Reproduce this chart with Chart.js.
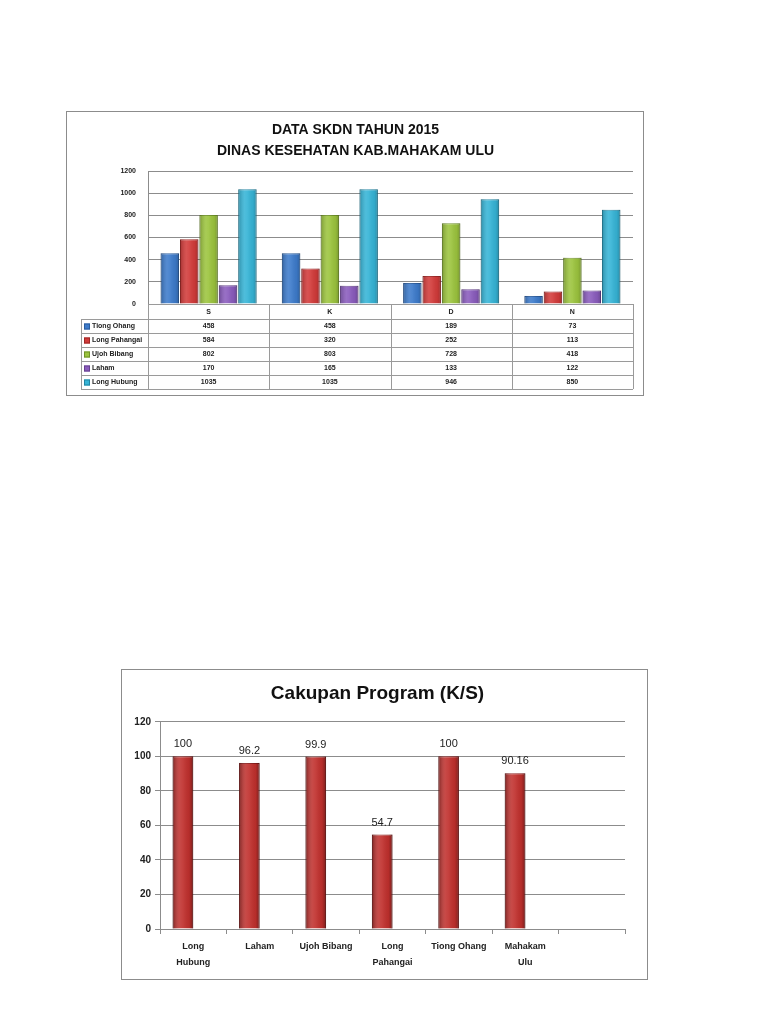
<!DOCTYPE html>
<html>
<head>
<meta charset="utf-8">
<title>SKDN 2015</title>
<script src="https://cdn.jsdelivr.net/npm/chart.js@4.4.0/dist/chart.umd.min.js"></script>
<style>
  body { margin: 0; background: #fff; }
  .frame { position: absolute; border: 1px solid #8c8c8c; background: #fff; box-sizing: border-box; }
  #box1 { left: 66px; top: 111px; width: 578px; height: 285px; }
  #box2 { left: 121px; top: 669px; width: 527px; height: 311px; }
  canvas { display: block; }
</style>
</head>
<body>
<div class="frame" id="box1"><canvas id="skdnChart"></canvas></div>
<div class="frame" id="box2"><canvas id="cakupanChart"></canvas></div>

<script>
// ---- data: SKDN 2015 ----
const skdnCategories = ['S', 'K', 'D', 'N'];
const skdnNames = ['Tiong Ohang', 'Long Pahangai', 'Ujoh Bibang', 'Laham', 'Long Hubung'];
const tiongOhang = [458, 458, 189, 73];
const longPahangai = [584, 320, 252, 113];
const ujohBibang = [802, 803, 728, 418];
const laham = [170, 165, 133, 122];
const longHubung = [1035, 1035, 946, 850];
const skdnTicks = [0, 200, 400, 600, 800, 1000, 1200];

// ---- data: Cakupan Program (K/S) ----
const cakupanLabels = [['Long', 'Hubung'], 'Laham', 'Ujoh Bibang', ['Long', 'Pahangai'], 'Tiong Ohang', ['Mahakam', 'Ulu'], ''];
const cakupanValues = [100, 96.2, 99.9, 54.7, 100, 90.16, null];
const cakupanTicks = [0, 20, 40, 60, 80, 100, 120];

const FONT = '"Liberation Sans", Arial, sans-serif';
const skdnColors = ['#3d7bcb', '#d23b3a', '#9cc43e', '#8a5cbd', '#36b4d6'];
const skdnBorders = ['#2a5c9e', '#9e2725', '#6f9128', '#66408f', '#2185a3'];

// rounded "cylinder" shading over every bar (style only)
const barShade = {
  id: 'barShade',
  afterDatasetsDraw(chart, args, opts) {
    const { ctx } = chart;
    ctx.save();
    chart.data.datasets.forEach((ds, di) => {
      chart.getDatasetMeta(di).data.forEach(bar => {
        if (bar.skip || !bar.width) return;
        const l = bar.x - bar.width / 2, w = bar.width;
        const g = ctx.createLinearGradient(l, 0, l + w, 0);
        g.addColorStop(0, 'rgba(0,0,0,' + opts.dark + ')');
        g.addColorStop(0.35, 'rgba(255,255,255,0.12)');
        g.addColorStop(0.5, 'rgba(255,255,255,0.08)');
        g.addColorStop(0.8, 'rgba(0,0,0,0.05)');
        g.addColorStop(1, 'rgba(0,0,0,' + opts.dark + ')');
        ctx.fillStyle = g;
        ctx.fillRect(l, bar.y, w, bar.base - bar.y);
      });
    });
    ctx.restore();
  }
};

// table under the first chart, aligned with the x scale columns
const skdnTable = {
  id: 'skdnTable',
  afterDraw(chart) {
    const { ctx, chartArea: a } = chart;
    const series = chart.data.datasets;
    const colW = a.width / skdnCategories.length;
    const headH = 15, rowH = 14;
    const top = a.bottom;
    const tableLeft = 14;
    const bottom = top + headH + rowH * series.length;
    ctx.save();
    ctx.strokeStyle = '#9a9a9a';
    ctx.lineWidth = 1;
    ctx.beginPath();
    ctx.moveTo(a.left, top + 0.5);
    ctx.lineTo(a.right, top + 0.5);
    for (let r = 0; r <= series.length; r++) {
      const y = Math.round(top + headH + r * rowH) + 0.5;
      ctx.moveTo(tableLeft, y);
      ctx.lineTo(a.right, y);
    }
    ctx.moveTo(tableLeft + 0.5, top + headH);
    ctx.lineTo(tableLeft + 0.5, bottom);
    for (let c = 0; c <= skdnCategories.length; c++) {
      const x = Math.round(a.left + c * colW) + 0.5;
      ctx.moveTo(x, top);
      ctx.lineTo(x, bottom);
    }
    ctx.stroke();

    ctx.fillStyle = '#222';
    ctx.font = 'bold 7px ' + FONT;
    ctx.textAlign = 'center';
    ctx.textBaseline = 'middle';
    skdnCategories.forEach((c, i) => {
      ctx.fillText(c, a.left + colW * (i + 0.5), top + headH / 2 + 1);
    });
    series.forEach((ds, r) => {
      const yMid = top + headH + rowH * (r + 0.5) + 0.5;
      ctx.fillStyle = ds.backgroundColor;
      ctx.fillRect(tableLeft + 3, yMid - 3, 6, 6);
      ctx.strokeStyle = ds.borderColor;
      ctx.strokeRect(tableLeft + 3.5, yMid - 2.5, 5, 5);
      ctx.fillStyle = '#222';
      ctx.textAlign = 'left';
      ctx.font = 'bold 7px ' + FONT;
      ctx.fillText(ds.label, tableLeft + 11, yMid);
      ctx.textAlign = 'center';
      ds.data.forEach((v, i) => {
        ctx.fillText(String(v), a.left + colW * (i + 0.5), yMid);
      });
    });
    ctx.restore();
  }
};

const skdnData = [tiongOhang, longPahangai, ujohBibang, laham, longHubung];

new Chart(document.getElementById('skdnChart'), {
  type: 'bar',
  data: {
    labels: skdnCategories,
    datasets: skdnNames.map((name, i) => ({
      label: name,
      data: skdnData[i],
      backgroundColor: skdnColors[i],
      borderColor: skdnBorders[i],
      borderWidth: 1,
      barPercentage: 0.95,
      categoryPercentage: 0.8
    }))
  },
  options: {
    responsive: true,
    maintainAspectRatio: false,
    animation: false,
    layout: { padding: { left: 11, right: 10, top: 0, bottom: 91 } },
    plugins: {
      legend: { display: false },
      tooltip: { enabled: false },
      barShade: { dark: 0.22 },
      title: {
        display: true,
        text: ['DATA SKDN TAHUN 2015', 'DINAS KESEHATAN KAB.MAHAKAM ULU'],
        color: '#111',
        font: { family: FONT, size: 14, weight: 'bold', lineHeight: 1.5 },
        padding: { top: 8, bottom: 9 }
      }
    },
    scales: {
      x: { display: false },
      y: {
        min: 0,
        max: 1200,
        afterBuildTicks: s => { s.ticks = skdnTicks.map(v => ({ value: v })); },
        afterFit: s => { s.width = 70; },
        border: { display: true, color: '#8c8c8c' },
        grid: { color: '#8c8c8c', drawTicks: false },
        ticks: {
          color: '#222', padding: 12,
          font: { family: FONT, size: 7, weight: 'bold' },
          callback: v => String(v)
        }
      }
    }
  },
  plugins: [skdnTable, barShade]
});

// value labels above the bars of the second chart
const barValues = {
  id: 'barValues',
  afterDatasetsDraw(chart) {
    const { ctx } = chart;
    const meta = chart.getDatasetMeta(0);
    ctx.save();
    ctx.fillStyle = '#222';
    ctx.font = '11px ' + FONT;
    ctx.textAlign = 'center';
    ctx.textBaseline = 'alphabetic';
    meta.data.forEach((bar, i) => {
      const v = chart.data.datasets[0].data[i];
      if (v == null) return;
      ctx.fillText(String(v), bar.x, bar.y - 9);
    });
    ctx.restore();
  }
};

new Chart(document.getElementById('cakupanChart'), {
  type: 'bar',
  data: {
    labels: cakupanLabels,
    datasets: [{
      label: 'Cakupan Program (K/S)',
      data: cakupanValues,
      backgroundColor: '#c0302d',
      borderColor: '#8a1c1b',
      borderWidth: 1,
      barPercentage: 1,
      categoryPercentage: 0.62
    }, {
      // empty second series slot, as in the original sheet
      label: '',
      data: [],
      barPercentage: 1,
      categoryPercentage: 0.62
    }]
  },
  options: {
    responsive: true,
    maintainAspectRatio: false,
    animation: false,
    layout: { padding: { left: 8, right: 22, top: 0, bottom: 5 } },
    plugins: {
      legend: { display: false },
      tooltip: { enabled: false },
      barShade: { dark: 0.35 },
      title: {
        display: true,
        text: 'Cakupan Program (K/S)',
        color: '#111',
        font: { family: FONT, size: 19, weight: 'bold', lineHeight: 1.2 },
        padding: { top: 12, bottom: 17 }
      }
    },
    scales: {
      x: {
        afterFit: s => { s.height = 45; },
        border: { color: '#8c8c8c' },
        grid: { offset: true, drawOnChartArea: false, color: '#8c8c8c', tickLength: 5 },
        ticks: {
          color: '#222', padding: 5, maxRotation: 0, autoSkip: false,
          font: { family: FONT, size: 9, weight: 'bold', lineHeight: 1.75 }
        }
      },
      y: {
        min: 0,
        max: 120,
        afterBuildTicks: s => { s.ticks = cakupanTicks.map(v => ({ value: v })); },
        afterFit: s => { s.width = 30; },
        border: { color: '#8c8c8c' },
        grid: { color: '#8c8c8c', tickLength: 5 },
        ticks: { color: '#222', padding: 4, font: { family: FONT, size: 10, weight: 'bold' } }
      }
    }
  },
  plugins: [barValues, barShade]
});
</script>
</body>
</html>
